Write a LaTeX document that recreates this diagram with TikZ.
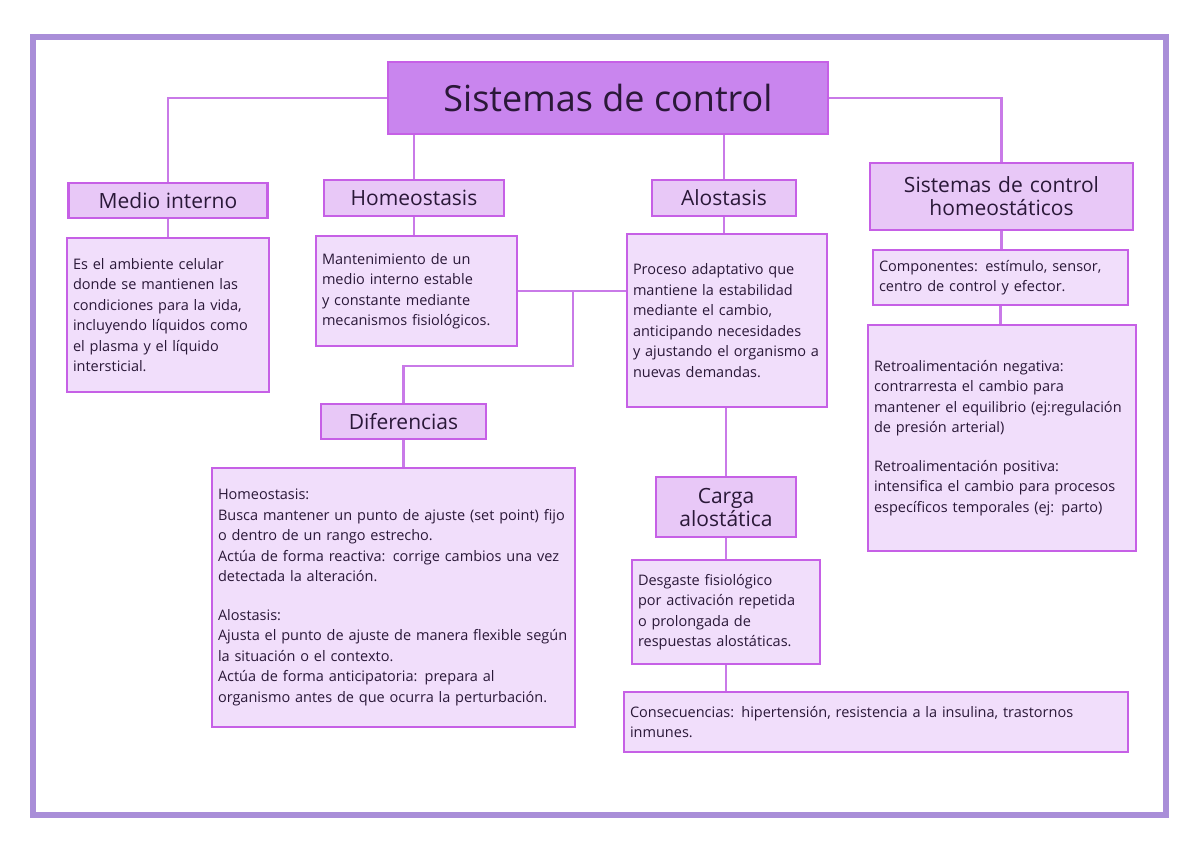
\documentclass[tikz,border=0pt]{standalone}
\usepackage{fontspec}
\setmainfont{Open Sans}
\begin{document}
\hyphenpenalty=10000 \exhyphenpenalty=10000
\begin{tikzpicture}[x=1pt,y=-1pt,
 ln/.style={draw=lnc,line width=2.5pt},
 hd/.style={draw=bord,fill=hdfill,line width=2.5pt,inner sep=2pt,align=center,font=\fontsize{21}{23}\selectfont,text=txt},
 bx/.style={draw=bord,fill=bxfill,line width=2.5pt,inner sep=5pt,align=left,font=\fontsize{14.5}{20.5}\selectfont,text=txt}]
\definecolor{bord}{HTML}{C660E6}
\definecolor{lnc}{HTML}{C97AE8}
\definecolor{hdfill}{HTML}{E8C8F7}
\definecolor{bxfill}{HTML}{F1DEFB}
\definecolor{txt}{HTML}{2A1838}
\definecolor{frame}{HTML}{A98ED8}
\definecolor{tfill}{HTML}{C985EE}
\fill[white] (0,0) rectangle (1200,849);
\draw[frame,line width=6pt] (33,37) rectangle (1166,815);
% nodes
\node[hd,fill=tfill,minimum width=440pt,minimum height=72pt,font=\fontsize{36}{40}\selectfont] (title) at (608,98) {Sistemas de control};
\node[hd,minimum width=199pt,minimum height=35pt] (medH) at (168,200.5) {Medio interno};
\node[hd,minimum width=180pt,minimum height=36pt] (homH) at (414,198) {Homeostasis};
\node[hd,minimum width=144pt,minimum height=36pt] (aloH) at (724,198) {Alostasis};
\node[hd,minimum width=263pt,minimum height=67pt,text width=255pt] (schH) at (1001.5,196.5) {Sistemas de control\\homeostáticos};
\node[hd,minimum width=165pt,minimum height=35pt] (difH) at (403.5,421.5) {Diferencias};
\node[hd,minimum width=140pt,minimum height=60pt] (carH) at (726,507) {Carga\\alostática};
\node[bx,minimum width=202pt,minimum height=154pt,text width=190pt] (med) at (168,315) {Es el ambiente celular donde se mantienen las condiciones para la vida, incluyendo líquidos como el plasma y el líquido intersticial.};
\node[bx,minimum width=201pt,minimum height=110pt,text width=189pt] (hom) at (416.5,291) {Mantenimiento de un medio interno estable y constante mediante mecanismos fisiológicos.};
\node[bx,minimum width=200pt,minimum height=173pt,text width=188pt] (alo) at (727,320.5) {Proceso adaptativo que mantiene la estabilidad mediante el cambio, anticipando necesidades y ajustando el organismo a nuevas demandas.};
\node[bx,minimum width=255pt,minimum height=55pt,text width=243pt] (comp) at (1000.5,277.5) {Componentes: estímulo, sensor, centro de control y efector.};
\node[bx,minimum width=268pt,minimum height=226pt,text width=256pt] (ret) at (1002,438) {Retroalimentación negativa:\\contrarresta el cambio para mantener el equilibrio (ej:regulación de presión arterial)\\[18pt]Retroalimentación positiva:\\intensifica el cambio para procesos específicos temporales (ej: parto)};
\node[bx,minimum width=363pt,minimum height=259pt,text width=351pt] (dif) at (393.5,597.5) {Homeostasis:\\Busca mantener un punto de ajuste (set point) fijo o dentro de un rango estrecho.\\Actúa de forma reactiva: corrige cambios una vez detectada la alteración.\\[18pt]Alostasis:\\Ajusta el punto de ajuste de manera flexible según la situación o el contexto.\\Actúa de forma anticipatoria: prepara al organismo antes de que ocurra la perturbación.};
\node[bx,minimum width=188pt,minimum height=104pt,text width=176pt] (des) at (726,612) {Desgaste fisiológico por activación repetida o prolongada de respuestas alostáticas.};
\node[bx,minimum width=504pt,minimum height=60pt,text width=492pt] (con) at (876,722) {Consecuencias: hipertensión, resistencia a la insulina, trastornos inmunes.};
% connectors
\draw[ln] (title.west) -| (medH.north);
\draw[ln] (title.east) -| (schH.north);
\draw[ln] (homH.north |- title.south) -- (homH.north);
\draw[ln] (aloH.north |- title.south) -- (aloH.north);
\draw[ln] (medH.south) -- (med.north);
\draw[ln] (homH.south) -- (homH.south |- hom.north);
\draw[ln] (aloH.south) -- (aloH.south |- alo.north);
\draw[ln] (schH.south) -- (schH.south |- comp.north);
\draw[ln] (comp.south) -- (comp.south |- ret.north);
\draw[ln] (hom.east) -- (hom.east -| alo.west);
\coordinate (j) at (573,291);
\draw[ln] (j) -- (573,366) -| (difH.north);
\draw[ln] (difH.south) -- (difH.south |- dif.north);
\draw[ln] (carH.north |- alo.south) -- (carH.north);
\draw[ln] (carH.south) -- (des.north);
\draw[ln] (des.south) -- (des.south |- con.north);
\end{tikzpicture}
\end{document}
